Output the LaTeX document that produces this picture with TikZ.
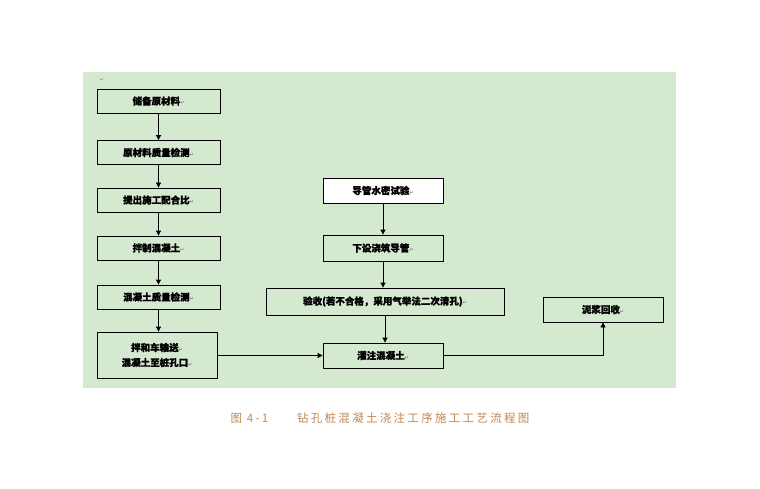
\documentclass[tikz,border=0pt]{standalone}
\usepackage{fontspec}
\setmainfont{Noto Sans CJK SC}[FakeBold=1.2]
\newfontfamily\capfont{Noto Sans CJK SC}[LetterSpace=20]
\newfontfamily\djfont{DejaVu Sans}
\usetikzlibrary{arrows.meta}
\definecolor{bg}{HTML}{D5E8D0}
\definecolor{cap}{HTML}{C08850}
\newcommand{\rt}{{\djfont\fontsize{5}{5}\selectfont\textcolor{gray}{↵}}}
\tikzset{
 bx/.style={draw=black,line width=0.8pt,fill=bg,font=\fontsize{9.5}{12}\selectfont\bfseries,inner sep=0,align=center},
 ar/.style={-{Triangle[length=5pt,width=5pt]},line width=0.8pt}
}
\begin{document}
\begin{tikzpicture}[x=1pt,y=-1pt]
\useasboundingbox (0,0) rectangle (760,489);
\fill[white] (0,0) rectangle (760,489);
\fill[bg] (83,72) rectangle (676,388);
\node[font=\fontsize{5}{5}\selectfont] (r0) at (102,80) {\rt};
\node[bx,minimum width=123pt,minimum height=24pt] (a1) at (158.5,101) {储备原材料\rt};
\node[bx,minimum width=123pt,minimum height=24pt] (a2) at (158.5,152.5) {原材料质量检测\rt};
\node[bx,minimum width=123pt,minimum height=24pt] (a3) at (158.5,200) {提出施工配合比\rt};
\node[bx,minimum width=123pt,minimum height=24pt] (a4) at (158.5,248) {拌制混凝土\rt};
\node[bx,minimum width=123pt,minimum height=24pt] (a5) at (158.5,297) {混凝土质量检测\rt};
\node[bx,minimum width=120pt,minimum height=46pt] (a6) at (157,355) {拌和车输送\rt\\[3pt]混凝土至桩孔口\rt};
\node[bx,fill=white,minimum width=120pt,minimum height=25pt] (b1) at (383,190.5) {导管水密试验\rt};
\node[bx,minimum width=120pt,minimum height=26pt] (b2) at (383,248) {下设浇筑导管\rt};
\node[bx,minimum width=238pt,minimum height=27pt] (b3) at (385,301.5) {验收(若不合格，采用气举法二次清孔)\rt};
\node[bx,minimum width=120pt,minimum height=25pt] (b4) at (383,355.5) {灌注混凝土\rt};
\node[bx,minimum width=120pt,minimum height=25pt] (c1) at (603,309.5) {泥浆回收\rt};
\foreach \p/\q in {a1/a2,a2/a3,a3/a4,a4/a5,a5/a6} \draw[ar] (\p.south) -- (\p.south |- \q.north);
\foreach \p/\q in {b1/b2,b2/b3,b3/b4} \draw[ar] (\p.south) -- (\p.south |- \q.north);
\draw[ar] (a6.east |- b4.west) -- (b4.west);
\draw[ar] (b4.east) -| (c1.south);
\node[text=cap,font=\fontsize{11.5}{14}\selectfont\capfont] (cp) at (380,418) {图 4-1\hspace{2.5em}钻孔桩混凝土浇注工序施工工艺流程图};
\end{tikzpicture}
\end{document}
